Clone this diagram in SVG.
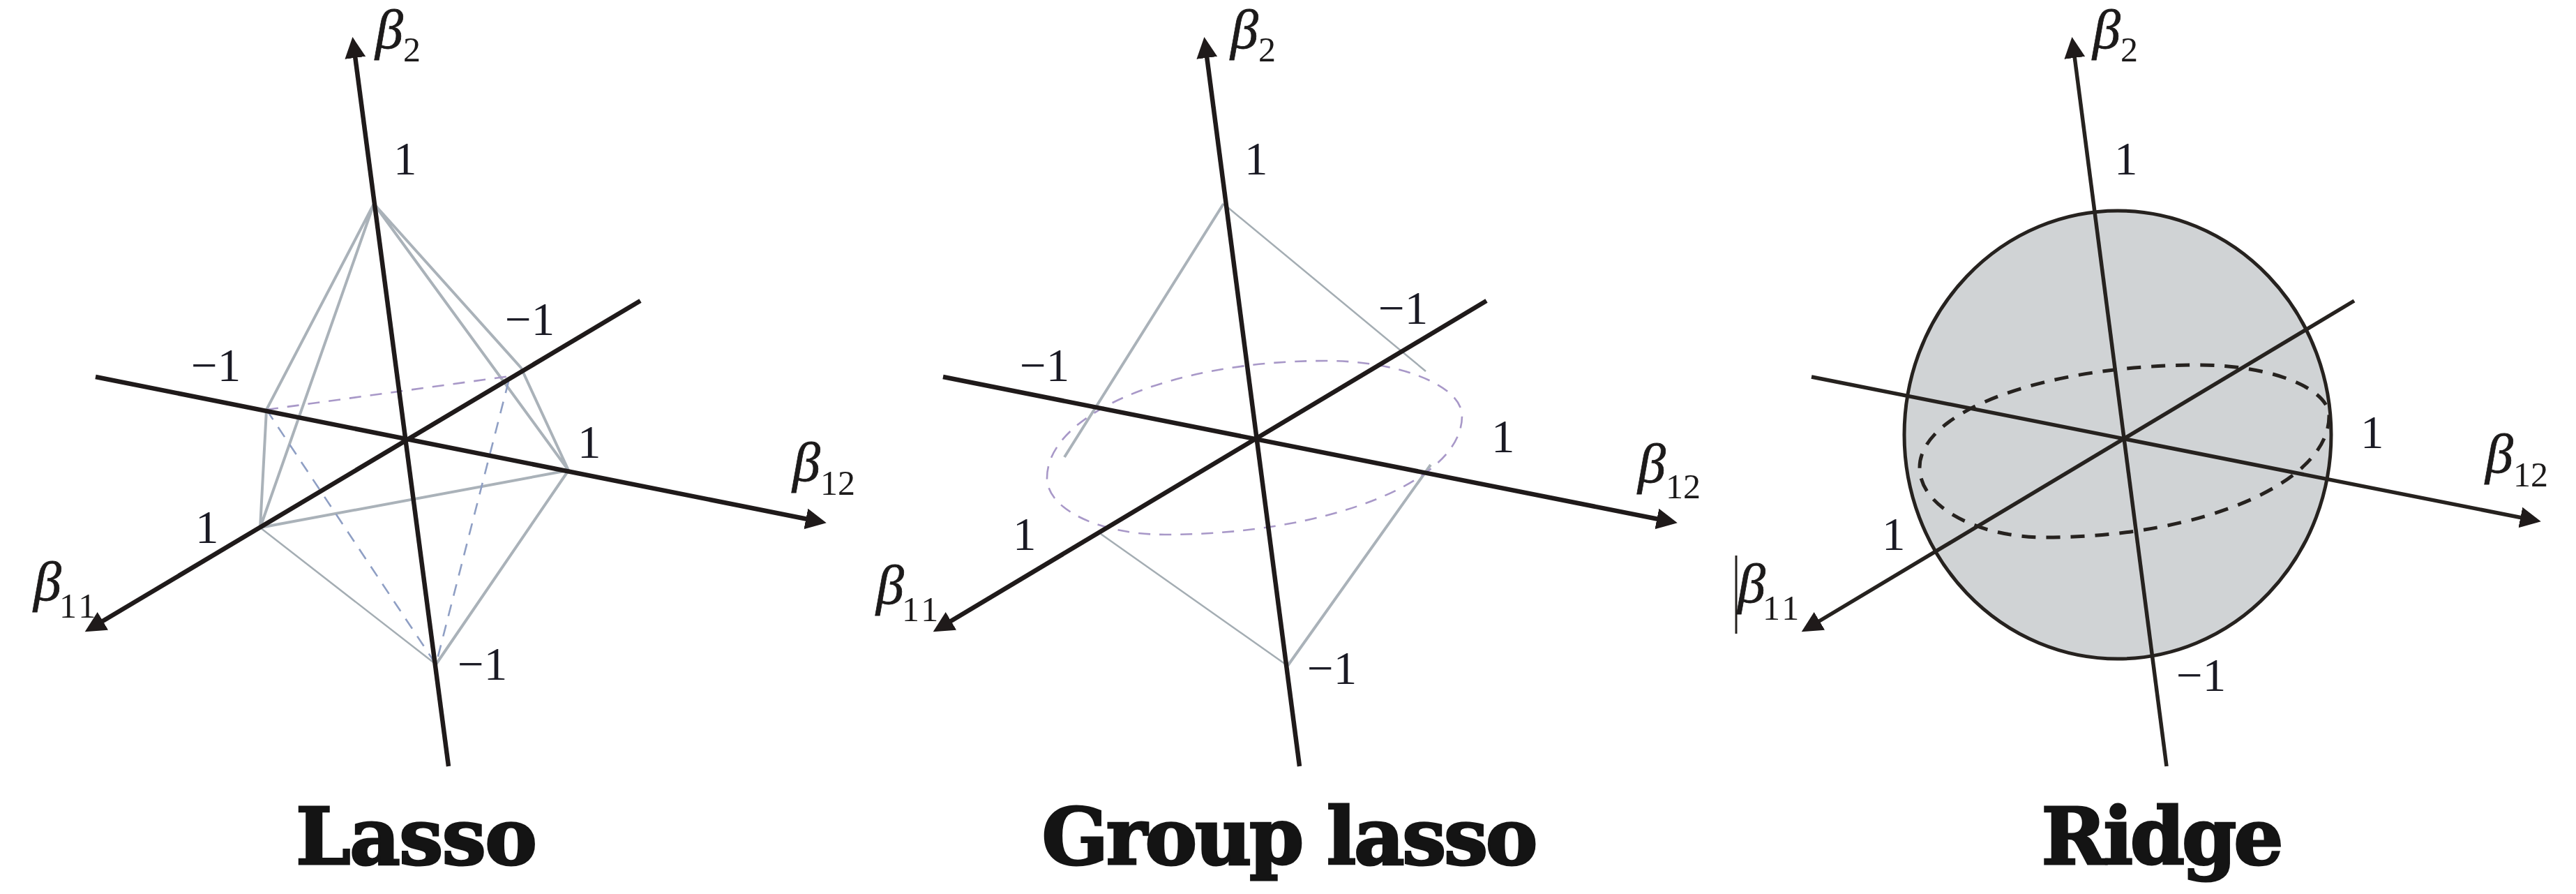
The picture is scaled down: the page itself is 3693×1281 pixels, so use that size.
<svg xmlns="http://www.w3.org/2000/svg" width="3693" height="1281" viewBox="0 0 3693 1281">
<style>
.ax{stroke:#1f1a1a;stroke-width:6.5;fill:none}
.axr{stroke:#26221f;stroke-width:5.5;fill:none}
.e{stroke:#aab2b9;stroke-width:4;fill:none}
.t{stroke:#a4adb3;stroke-width:2.5;fill:none}
.d{stroke:#8f9fc4;stroke-width:2.6;fill:none;stroke-dasharray:17 13}
.p{stroke:#a898c8;stroke-width:2.6;fill:none;stroke-dasharray:17 13}
.n{font-family:"Liberation Serif",serif;font-size:67px;fill:#1a1a24}
.b{font-family:"Liberation Serif",serif;font-style:italic;font-size:80px;fill:#1c1a1a;stroke:#1c1a1a;stroke-width:.8}
.s{font-family:"Liberation Serif",serif;font-size:50px;fill:#1c1a1a}
.w{letter-spacing:4px}
.h{font:bold 112px "DejaVu Serif",serif;fill:#141414;text-anchor:middle;stroke:#141414;stroke-width:3}
</style>
<defs>
<marker id="a" markerUnits="userSpaceOnUse" markerWidth="34" markerHeight="34" refX="18" refY="16" orient="auto"><path d="M0 1L30 16L0 31Z" fill="#1f1a1a"/></marker>
</defs>
<rect width="3693" height="1281" fill="#fff"/>
<g id="lasso-shape">
<path class="e" d="M536 292L382 587L373 756L536 292M536 292L815 674M536 292L747 527L815 674L373 756M815 674L625 952"/>
<path class="t" d="M373 756L625 952"/>
<path class="p" d="M382 587L731 539"/>
<path class="d" d="M382 587L625 952L731 539"/>
</g>
<g id="group-shape">
<path class="e" d="M1754 292L1526 655M2051 666L1846 954"/>
<path class="t" d="M1754 292L2044 532M1578 765L1846 954"/>
<path class="p" d="M1501 685C1501 593 1680 517 1900 517C2008 517 2096 553 2096 596C2096 690 1904 766 1670 766C1577 766 1501 730 1501 685Z"/>
</g>
<g id="ridge-shape">
<ellipse cx="3036" cy="623" rx="306" ry="321" fill="#d0d3d5" stroke="#26221f" stroke-width="5"/>
<path d="M2752 670C2752 589 2932 523 3152 523C3255 523 3339 556 3339 596C3339 692 3156 770 2932 770C2833 770 2752 725 2752 670Z" fill="none" stroke="#26221f" stroke-width="5" stroke-dasharray="20 15"/>
<path d="M2489 796V908" stroke="#26221f" stroke-width="3"/>
</g>
<g id="connectors">
<path class="ax" d="M643 1098L507 65" marker-end="url(#a)"/>
<path class="ax" d="M137 540L1173 747" marker-end="url(#a)"/>
<path class="ax" d="M918 431L132 899" marker-end="url(#a)"/>
<path class="ax" d="M1863 1098L1728 65" marker-end="url(#a)"/>
<path class="ax" d="M1352 540L2393 747" marker-end="url(#a)"/>
<path class="ax" d="M2131 431L1348 899" marker-end="url(#a)"/>
<path class="axr" d="M3106 1098L2972 65" marker-end="url(#a)"/>
<path class="axr" d="M2597 540L3631 745" marker-end="url(#a)"/>
<path class="axr" d="M3375 431L2593 899" marker-end="url(#a)"/>
</g>
<g id="lasso-labels">
<text class="b" x="538" y="69">β</text><text class="s" x="578" y="88">2</text>
<text class="b" x="1136" y="689">β</text><text class="s" x="1176" y="709">12</text>
<text class="b" x="48" y="860">β</text><text class="s w" x="85" y="885">11</text>
<text class="n" x="564" y="250">1</text><text class="n" x="724" y="480">−1</text><text class="n" x="274" y="546">−1</text>
<text class="n" x="828" y="656">1</text><text class="n" x="280" y="778">1</text><text class="n" x="656" y="974">−1</text>
<text class="h" x="597" y="1238" textLength="346">Lasso</text>
</g>
<g id="group-labels">
<text class="b" x="1764" y="69">β</text><text class="s" x="1804" y="88">2</text>
<text class="b" x="2348" y="691">β</text><text class="s" x="2388" y="714">12</text>
<text class="b" x="1256" y="865">β</text><text class="s w" x="1293" y="890">11</text>
<text class="n" x="1784" y="250">1</text><text class="n" x="1976" y="464">−1</text><text class="n" x="1462" y="546">−1</text>
<text class="n" x="2138" y="648">1</text><text class="n" x="1452" y="788">1</text><text class="n" x="1874" y="980">−1</text>
<text class="h" x="1849" y="1238" textLength="711">Group lasso</text>
</g>
<g id="ridge-labels">
<text class="b" x="3000" y="69">β</text><text class="s" x="3040" y="88">2</text>
<text class="b" x="3563" y="677">β</text><text class="s" x="3603" y="697">12</text>
<text class="b" x="2491" y="863">β</text><text class="s w" x="2527" y="888">11</text>
<text class="n" x="3031" y="250">1</text><text class="n" x="3120" y="990">−1</text>
<text class="n" x="3384" y="642">1</text><text class="n" x="2698" y="788">1</text>
<text class="h" x="3100" y="1238" textLength="347">Ridge</text>
</g>
</svg>
